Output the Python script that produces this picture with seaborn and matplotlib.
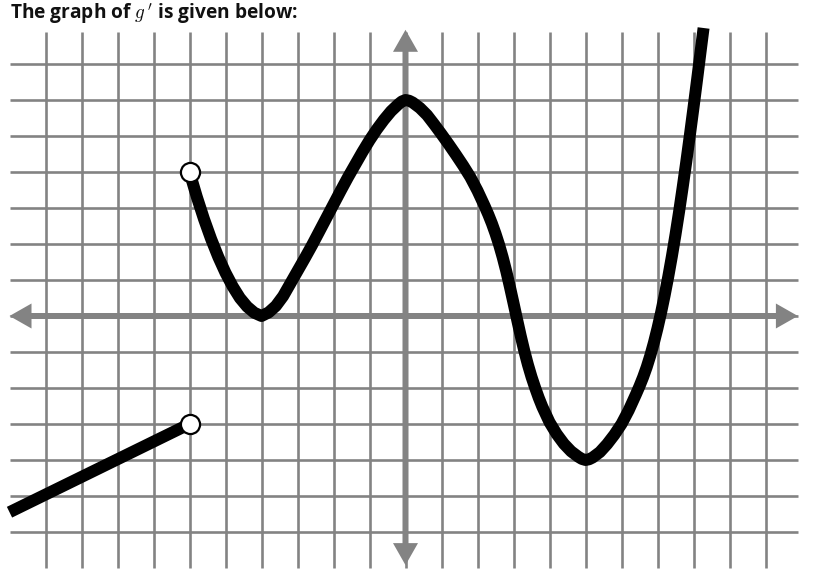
import matplotlib
matplotlib.use("Agg")
import matplotlib.pyplot as plt
import seaborn as sns

sns.set_theme(style="white")
plt.rcParams["font.family"] = ["Open Sans", "DejaVu Sans"]
plt.rcParams["mathtext.fontset"] = "cm"

# values (grid units)
seg_x = [-11, -6]
seg_y = [-5.45, -3]

curve_x = [-6.0, -5.8, -5.6, -5.4, -5.2, -5.0, -4.8, -4.6, -4.4, -4.2, -4.0,
           -3.8, -3.6, -3.4, -3.2, -3.0, -2.8, -2.6, -2.4, -2.2, -2.0, -1.8,
           -1.6, -1.4, -1.2, -1.0, -0.8, -0.6, -0.4, -0.2, -0.1, 0.0,
           0.1, 0.2, 0.4, 0.6, 0.8, 1.0, 1.2, 1.4, 1.6, 1.8, 2.0, 2.2, 2.3,
           2.4, 2.5, 2.6, 2.7, 2.8, 2.9, 3.0, 3.1, 3.2, 3.3, 3.4, 3.5, 3.6,
           3.7, 3.8, 4.0, 4.2, 4.4, 4.6, 4.8, 4.9, 5.0,
           5.1, 5.2, 5.4, 5.6, 5.8, 6.0, 6.2, 6.4, 6.5, 6.6, 6.7, 6.8, 6.9,
           7.0, 7.1, 7.2, 7.3, 7.4, 7.5, 7.6, 7.7, 7.8, 7.9, 8.0, 8.1, 8.2, 8.28]
curve_y = [4.0, 3.32, 2.7, 2.14, 1.64, 1.2, 0.82, 0.5, 0.26, 0.09, 0.0,
           0.1, 0.28, 0.55, 0.9, 1.25, 1.6, 1.96, 2.34, 2.72, 3.1, 3.48,
           3.85, 4.2, 4.55, 4.88, 5.18, 5.45, 5.69, 5.88, 5.96, 6.0,
           5.98, 5.93, 5.78, 5.58, 5.32, 5.05, 4.77, 4.48, 4.18, 3.86, 3.48, 3.05, 2.82,
           2.57, 2.29, 1.98, 1.63, 1.24, 0.81, 0.36, -0.1, -0.55, -0.97, -1.35, -1.69, -1.99,
           -2.27, -2.52, -2.95, -3.28, -3.55, -3.76, -3.91, -3.97, -4.0,
           -3.98, -3.93, -3.78, -3.56, -3.3, -3.0, -2.62, -2.18, -1.95, -1.7, -1.42, -1.1, -0.74,
           -0.34, 0.1, 0.58, 1.1, 1.66, 2.26, 2.9, 3.58, 4.29, 5.03, 5.79, 6.57, 7.37, 8.0]

open_x = [-6, -6]
open_y = [4, -3]

grid_x = list(range(-10, 11))
grid_y = list(range(-6, 8))

gray = "#838383"

fig = plt.figure(figsize=(8.29, 5.79), dpi=100)
ax = fig.add_axes([0, 0, 1, 1])
ax.set_xlim(-405.5 / 36, (829 - 405.5) / 36)
ax.set_ylim((316 - 579) / 36, 316 / 36)
ax.axis("off")

# grid
ax.vlines(grid_x, -7, 7.9, color=gray, lw=1.9, zorder=1)
ax.hlines(grid_y, -11, 10.9, color=gray, lw=1.9, zorder=1)

# axes with arrows
arw = dict(width=6 / 36, head_width=25 / 36, head_length=22 / 36,
           length_includes_head=True, color=gray, lw=0, zorder=2)
ax.arrow(0, 0, 10.9, 0, **arw)
ax.arrow(0, 0, -11, 0, **arw)
ax.arrow(0, 0, 0, 7.95, **arw)
ax.arrow(0, 0, 0, -6.92, **arw)

# g' graph
sns.lineplot(x=seg_x, y=seg_y, ax=ax, color="black", lw=8.6, sort=False,
             estimator=None, solid_capstyle="butt", zorder=3)
sns.lineplot(x=curve_x, y=curve_y, ax=ax, color="black", lw=8.6, sort=False,
             estimator=None, solid_capstyle="butt", solid_joinstyle="round",
             zorder=3)
sns.scatterplot(x=open_x, y=open_y, ax=ax, s=190, color="white",
                edgecolor="black", linewidth=1.6, zorder=4)

fig.text(0.012, 0.967, "The graph of $g\\,'$ is given below:", fontsize=13.8,
         fontweight="bold", color="#111111", va="baseline", ha="left")

fig.savefig("out.png", dpi=100)
